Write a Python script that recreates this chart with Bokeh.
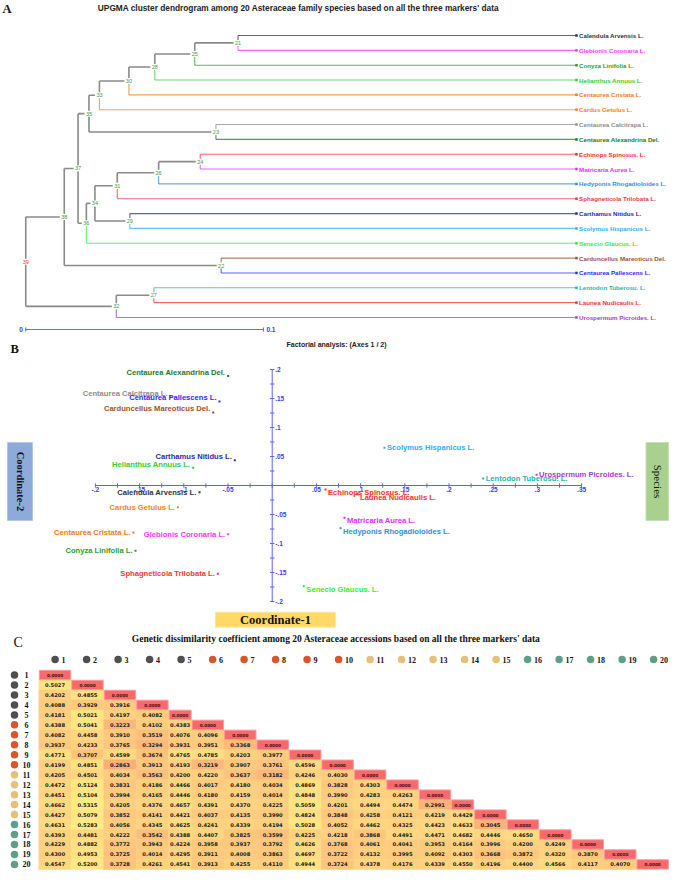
import math
from bokeh.plotting import figure
from bokeh.layouts import column
from bokeh.models import Range1d
from bokeh.embed import file_html
from bokeh.resources import INLINE
from bokeh.core.properties import value

# ---------------- DATA ----------------
leaf_names = ["Calendula Arvensis L.", "Glebionis Coronaria L.", "Conyza Linifolia L.",
              "Helianthus Annuus L.", "Centaurea Cristata L.", "Cardus Getulus L.",
              "Centaurea Calcitrapa L.", "Centaurea Alexandrina Del.", "Echinops Spinosus. L.",
              "Matricaria Aurea L.", "Hedyponis Rhogadioloides L.", "Sphagneticola Trilobata L.",
              "Carthamus Nitidus L.", "Scolymus Hispanicus L.", "Senecio Glaucus. L.",
              "Carduncellus Mareoticus Del.", "Centaurea Pallescens L.", "Lentodon Tuberosu. L.",
              "Launea Nudicaulis L.", "Urospermum Picroides. L."]
leaf_colors = ["#333333", "#ff33ff", "#2e9e2e", "#33cc33", "#e67e22", "#ff7f27",
               "#8c8c8c", "#1f7a1f", "#ff2a2a", "#d633ff", "#2f8fd8", "#e03c3c",
               "#2a2a9e", "#33aaff", "#33ee33", "#a0522d", "#2b2bff", "#2ab5a5",
               "#ee3333", "#a040d0"]

# UPGMA merges (node id, left child, right child, height); children < 20 are leaves
merge_ids = [21, 25, 28, 30, 33, 23, 35, 24, 26, 31, 29, 34, 36, 37, 22, 38, 27, 32, 39]
merge_left = [0, 21, 25, 28, 30, 6, 33, 8, 24, 26, 12, 31, 34, 35, 15, 37, 17, 27, 38]
merge_right = [1, 2, 3, 4, 5, 7, 23, 9, 10, 11, 13, 29, 14, 36, 16, 22, 18, 19, 32]
merge_height = [0.1424, 0.1606, 0.1774, 0.1883, 0.2007, 0.1517, 0.2051, 0.1583, 0.1758,
                0.1932, 0.1879, 0.2026, 0.2062, 0.2097, 0.1495, 0.2155, 0.1778, 0.1936, 0.2317]
scale_bar_len = 0.1

# Factorial analysis coordinates (axis 1, axis 2)
pca_names = ["Centaurea Alexandrina Del.", "Centaurea Calcitrapa L.", "Centaurea Pallescens L.",
             "Carduncellus Mareoticus Del.", "Carthamus Nitidus L.", "Helianthus Annuus L.",
             "Calendula Arvensis L.", "Cardus Getulus L.", "Centaurea Cristata L.",
             "Glebionis Coronaria L.", "Conyza Linifolia L.", "Sphagneticola Trilobata L.",
             "Senecio Glaucus. L.", "Echinops Spinosus. L.", "Launea Nudicaulis L.",
             "Matricaria Aurea L.", "Hedyponis Rhogadioloides L.", "Scolymus Hispanicus L.",
             "Lentodon Tuberosu. L.", "Urospermum Picroides. L."]
pca_x = [-0.0498, -0.115, -0.0596, -0.0667, -0.0423, -0.0894, -0.0822, -0.1067, -0.157,
         -0.0498, -0.1546, -0.0615, 0.0358, 0.0603, 0.0965, 0.0818, 0.0773, 0.127, 0.2387, 0.299]
pca_y = [0.189, 0.152, 0.145, 0.126, 0.0437, 0.0305, -0.0115, -0.0374, -0.081,
         -0.084, -0.1126, -0.152, -0.1736, -0.0069, -0.0147, -0.0557, -0.0736, 0.065, 0.012, 0.0184]
x_ticks = [-0.2, -0.15, -0.1, -0.05, 0.05, 0.1, 0.15, 0.2, 0.25, 0.3, 0.35]
x_tick_labels = ["-.2", "-.15", "-.1", "-.05", ".05", ".1", ".15", ".2", ".25", ".3", ".35"]
y_ticks = [0.2, 0.15, 0.1, 0.05, -0.05, -0.1, -0.15, -0.2]
y_tick_labels = [".2", ".15", ".1", ".05", "-.05", "-.1", "-.15", "-.2"]
x_axis_min, x_axis_max, minor_step = -0.2, 0.35, 0.025
y_axis_min, y_axis_max = -0.2, 0.2

# Genetic dissimilarity matrix (lower triangle)
accessions = [str(i) for i in range(1, 21)]
group_colors = ["#4f4f4f"] * 5 + ["#d6572b"] * 5 + ["#e5c07b"] * 5 + ["#5f9f8a"] * 5
dissim = [
    [0.0000],
    [0.5027, 0.0000],
    [0.4202, 0.4855, 0.0000],
    [0.4088, 0.3929, 0.3916, 0.0000],
    [0.4181, 0.5021, 0.4197, 0.4082, 0.0000],
    [0.4388, 0.5041, 0.3223, 0.4102, 0.4383, 0.0000],
    [0.4082, 0.4458, 0.3910, 0.3519, 0.4076, 0.4096, 0.0000],
    [0.3937, 0.4233, 0.3765, 0.3294, 0.3931, 0.3951, 0.3368, 0.0000],
    [0.4771, 0.3707, 0.4599, 0.3674, 0.4765, 0.4785, 0.4203, 0.3977, 0.0000],
    [0.4199, 0.4851, 0.2863, 0.3913, 0.4193, 0.3219, 0.3907, 0.3761, 0.4596, 0.0000],
    [0.4205, 0.4501, 0.4034, 0.3563, 0.4200, 0.4220, 0.3637, 0.3182, 0.4246, 0.4030, 0.0000],
    [0.4472, 0.5124, 0.3831, 0.4186, 0.4466, 0.4017, 0.4180, 0.4034, 0.4869, 0.3828, 0.4303, 0.0000],
    [0.4451, 0.5104, 0.3994, 0.4165, 0.4446, 0.4180, 0.4159, 0.4014, 0.4848, 0.3990, 0.4283, 0.4263, 0.0000],
    [0.4662, 0.5315, 0.4205, 0.4376, 0.4657, 0.4391, 0.4370, 0.4225, 0.5059, 0.4201, 0.4494, 0.4474, 0.2991, 0.0000],
    [0.4427, 0.5079, 0.3852, 0.4141, 0.4421, 0.4037, 0.4135, 0.3990, 0.4824, 0.3848, 0.4258, 0.4121, 0.4219, 0.4429, 0.0000],
    [0.4631, 0.5283, 0.4056, 0.4345, 0.4625, 0.4241, 0.4339, 0.4194, 0.5028, 0.4052, 0.4462, 0.4325, 0.4423, 0.4633, 0.3045, 0.0000],
    [0.4393, 0.4481, 0.4222, 0.3542, 0.4388, 0.4407, 0.3825, 0.3599, 0.4225, 0.4218, 0.3868, 0.4491, 0.4471, 0.4682, 0.4446, 0.4650, 0.0000],
    [0.4229, 0.4882, 0.3772, 0.3943, 0.4224, 0.3958, 0.3937, 0.3792, 0.4626, 0.3768, 0.4061, 0.4041, 0.3953, 0.4164, 0.3996, 0.4200, 0.4249, 0.0000],
    [0.4300, 0.4953, 0.3725, 0.4014, 0.4295, 0.3911, 0.4008, 0.3863, 0.4697, 0.3722, 0.4132, 0.3995, 0.4092, 0.4303, 0.3668, 0.3872, 0.4320, 0.3870, 0.0000],
    [0.4547, 0.5200, 0.3728, 0.4261, 0.4541, 0.3913, 0.4255, 0.4110, 0.4944, 0.3724, 0.4378, 0.4176, 0.4339, 0.4550, 0.4196, 0.4400, 0.4566, 0.4117, 0.4070, 0.0000],
]

# ---------------- LAYOUT ----------------
W = 669
TOTAL_H = 870
SANS = value("Liberation Sans")
SERIF = value("Liberation Serif")
DEJ = value("DejaVu Sans")


def fs(s):
    return value(f"{s}px")


def base_fig(h, xr, yr):
    p = figure(width=W, height=h, x_range=xr, y_range=yr, toolbar_location=None,
               output_backend="svg", x_axis_location=None, y_axis_location=None,
               min_border=0, title=None)
    p.outline_line_color = None
    p.background_fill_color = "white"
    p.border_fill_color = "white"
    p.xgrid.visible = False
    p.ygrid.visible = False
    return p


def txt(p, x, y, s, size, color="#222222", font=SANS, style="bold", align="center",
        baseline="middle", angle=0.0, xo=0, yo=0):
    p.text(x=[x], y=[y], text=[s], text_font=font, text_font_size=fs(size),
           text_font_style=style, text_color=color, text_align=align,
           text_baseline=baseline, angle=angle, x_offset=xo, y_offset=yo)


# ======== Panel A: dendrogram ========
A_TOP, A_H = 0, 333
LEAF_PX, UNIT_PX = 576.0, 2377.0
LEAF0_Y, LEAF_STEP = 35.0, 14.84


def a_x(X):
    return (LEAF_PX - X) / UNIT_PX


def a_y(Y):
    return (Y - LEAF0_Y) / LEAF_STEP


pA = base_fig(A_H, Range1d(a_x(0), a_x(W)), Range1d(a_y(A_TOP + A_H), a_y(A_TOP)))

pos = {i: (0.0, float(i)) for i in range(len(leaf_names))}
sx0, sy0, sx1, sy1, scol, swid, salp = [], [], [], [], [], [], []
for nid, a, b, h in zip(merge_ids, merge_left, merge_right, merge_height):
    ym = (pos[a][1] + pos[b][1]) / 2.0
    for c in (a, b):
        hc, yc = pos[c]
        if c < 20:
            col, w, al = leaf_colors[c], 1.1, 0.75
        else:
            col, w, al = "#8a8a8a", 1.6, 1.0
        sx0 += [h, h]; sy0 += [ym, yc]; sx1 += [h, hc]; sy1 += [yc, yc]
        scol += [col, col]; swid += [w, w]; salp += [al, al]
    pos[nid] = (h, ym)

pA.segment(x0=sx0, y0=sy0, x1=sx1, y1=sy1, line_color=scol, line_width=swid, line_alpha=salp)

nx = [pos[n][0] for n in merge_ids]
ny = [pos[n][1] for n in merge_ids]
ncol = ["#3c9a3c"] * (len(merge_ids) - 1) + ["#ff3030"]
pA.rect(x=nx, y=ny, width=9, height=6, width_units="screen", height_units="screen",
        fill_color="white", line_color=None)
pA.text(x=nx, y=ny, text=[str(n) for n in merge_ids], text_font=SANS, text_font_size=fs(5.5),
        text_color=ncol, text_align="center", text_baseline="middle")

leaf_y = list(range(len(leaf_names)))
pA.scatter(x=[0.0] * len(leaf_names), y=leaf_y, marker="square", size=2.5,
           fill_color=leaf_colors, line_color=None)
pA.text(x=[0.0] * len(leaf_names), y=leaf_y, text=leaf_names, text_font=SANS,
        text_font_size=fs(6.2), text_font_style="bold", text_color=leaf_colors,
        text_align="left", text_baseline="middle", x_offset=2.5)

root_h = merge_height[-1]
sb_y = a_y(329)
pA.segment(x0=[root_h], y0=[sb_y], x1=[root_h - scale_bar_len], y1=[sb_y], line_color="#6a6aff", line_width=1)
pA.rect(x=[root_h, root_h - scale_bar_len], y=[sb_y, sb_y], width=1.2, height=4,
        width_units="screen", height_units="screen", fill_color="#6a6aff", line_color=None)
txt(pA, root_h, sb_y, "0", 6.5, color="#3a3aff", align="right", xo=-3)
txt(pA, root_h - scale_bar_len, sb_y, "0.1", 6.5, color="#3a3aff", align="left", xo=3)

txt(pA, a_x(298), a_y(7.5),
    "UPGMA cluster dendrogram among 20 Asteraceae family species based on all the three markers' data",
    8.3, color="#222222")
txt(pA, a_x(2), a_y(8.5), "A", 12.5, color="#111111", font=SERIF, align="left")

# ======== Panel B: factorial analysis ========
B_TOP, B_H = A_TOP + A_H, 297
BX0, BXS, BY0, BYS = 271.7, 884.0, 485.0, 580.0


def b_x(X):
    return (X - BX0) / BXS


def b_y(Y):
    return (BY0 - Y) / BYS


pB = base_fig(B_H, Range1d(b_x(0), b_x(W)), Range1d(b_y(B_TOP + B_H), b_y(B_TOP)))

AX_COL = "#6262f0"
pB.segment(x0=[x_axis_min, 0], y0=[0, y_axis_min], x1=[x_axis_max, 0], y1=[0, y_axis_max],
           line_color=AX_COL, line_width=1)
nxm = int(round((x_axis_max - x_axis_min) / minor_step))
xm = [x_axis_min + k * minor_step for k in range(nxm + 1)]
nym = int(round((y_axis_max - y_axis_min) / minor_step))
ym_ = [y_axis_min + k * minor_step for k in range(nym + 1)]
tl = 2.2
pB.segment(x0=xm, y0=[-tl / BYS] * len(xm), x1=xm, y1=[tl / BYS] * len(xm), line_color=AX_COL, line_width=1)
pB.segment(x0=[-tl / BXS] * len(ym_), y0=ym_, x1=[tl / BXS] * len(ym_), y1=ym_, line_color=AX_COL, line_width=1)
pB.text(x=x_ticks, y=[0.0] * len(x_ticks), text=x_tick_labels, text_font=SANS, text_font_size=fs(6.5),
        text_font_style="bold", text_color="#3a3aff", text_align="center", text_baseline="top", y_offset=1.5)
pB.text(x=[0.0] * len(y_ticks), y=y_ticks, text=y_tick_labels, text_font=SANS, text_font_size=fs(6.5),
        text_font_style="bold", text_color="#3a3aff", text_align="left", text_baseline="middle", x_offset=3)

name_col = dict(zip(leaf_names, leaf_colors))
pcol = [name_col[n] for n in pca_names]
pB.scatter(x=pca_x, y=pca_y, marker="square", size=2, fill_color=pcol, line_color=None)
al, xo, yo = [], [], []
for x, y in zip(pca_x, pca_y):
    if x < 0:
        al.append("right"); xo.append(-3); yo.append(-3.5 if y > 0 else 0)
    else:
        al.append("left"); xo.append(2.5); yo.append(3 if y < 0 else 0)
pB.text(x=pca_x, y=pca_y, text=pca_names, text_font=SANS, text_font_size=fs(7.6),
        text_font_style="bold", text_color=pcol, text_align=al, text_baseline="middle",
        x_offset=xo, y_offset=yo)

txt(pB, b_x(336), b_y(344.3), "Factorial analysis: (Axes 1 / 2)", 7.0, color="#222222")
txt(pB, b_x(10), b_y(348.5), "B", 12.5, color="#111111", font=SERIF, align="left")

# side boxes
pB.quad(left=[b_x(7)], right=[b_x(32)], top=[b_y(442)], bottom=[b_y(520)],
        fill_color="#8eaadb", line_color="#b4c7e7", line_width=1)
txt(pB, b_x(19.5), b_y(481), "Coordinate-2", 10.5, color="#111111", font=SERIF, angle=-math.pi / 2)
pB.quad(left=[b_x(645.5)], right=[b_x(668)], top=[b_y(442)], bottom=[b_y(520)],
        fill_color="#a9d18e", line_color="#c5e0b4", line_width=1)
txt(pB, b_x(657), b_y(481), "Species", 11, color="#111111", font=SERIF, style="normal", angle=-math.pi / 2)
pB.quad(left=[b_x(215)], right=[b_x(335)], top=[b_y(611.7)], bottom=[b_y(626.7)],
        fill_color="#ffd966", line_color="#ffe699", line_width=1)
txt(pB, b_x(275), b_y(619.5), "Coordinate-1", 12.5, color="#111111", font=SERIF)

# ======== Panel C: dissimilarity matrix ========
C_TOP = B_TOP + B_H
C_H = TOTAL_H - A_H - B_H
ROW1_Y, ROW_H = 674.5, 9.97


def c_y(Y):
    return 1 + (Y - ROW1_Y) / ROW_H


pC = base_fig(C_H, Range1d(0, W), Range1d(c_y(C_TOP + C_H), c_y(C_TOP)))

COL_START = 38.3
col_w = [32.45] * 20
col_w[4] = 23.0
col_w[13] = 23.0
col_cx = []
acc = COL_START
for w in col_w:
    col_cx.append(acc + w / 2)
    acc += w

vmax = max(max(r) for r in dissim)


def scale_color(v):
    t = max(0.0, min(1.0, v / vmax))
    r = 248 + (255 - 248) * t
    g = 105 + (235 - 105) * t
    b = 107 + (132 - 107) * t
    return "#%02x%02x%02x" % (int(round(r)), int(round(g)), int(round(b)))


ox, oy, ow, oc, ot = [], [], [], [], []
dx, dy, dw, dt = [], [], [], []
for i, row in enumerate(dissim):
    for j, v in enumerate(row):
        if i == j:
            dx.append(col_cx[j]); dy.append(i + 1); dw.append(col_w[j] - 1); dt.append("%.4f" % v)
        else:
            ox.append(col_cx[j]); oy.append(i + 1); ow.append(col_w[j]); oc.append(scale_color(v)); ot.append("%.4f" % v)

pC.rect(x=ox, y=oy, width=ow, height=1.0, fill_color=oc, line_color=oc, line_width=0.5)
pC.rect(x=dx, y=dy, width=dw, height=0.94, fill_color="#f8696b", line_color="#ff9a9a", line_width=1)
pC.text(x=ox, y=oy, text=ot, text_font=DEJ, text_font_size=fs(5.2), text_font_style="bold",
        text_color="#1a1a1a", text_align="center", text_baseline="middle")
pC.text(x=dx, y=dy, text=dt, text_font=DEJ, text_font_size=fs(4.2), text_font_style="bold",
        text_color="#4a1010", text_align="center", text_baseline="middle")

# legends
n = len(accessions)
top_x = [54.6 + k * 31.5 for k in range(n)]
top_y = [c_y(659)] * n
pC.scatter(x=top_x, y=top_y, size=7.5, fill_color=group_colors, line_color=None)
pC.text(x=top_x, y=top_y, text=accessions, text_font=SERIF, text_font_size=fs(8),
        text_font_style="bold", text_color="#111111", text_align="left", text_baseline="middle", x_offset=6.5)
left_y = list(range(1, n + 1))
pC.scatter(x=[14] * n, y=left_y, size=7.5, fill_color=group_colors, line_color=None)
pC.text(x=[26] * n, y=left_y, text=accessions, text_font=SERIF, text_font_size=fs(8),
        text_font_style="bold", text_color="#111111", text_align="center", text_baseline="middle")

txt(pC, 338, c_y(638.5),
    "Genetic dissimilarity coefficient  among 20 Asteraceae accessions based on all the three  markers' data",
    9.5, color="#111111", font=SERIF)
txt(pC, 13, c_y(642), "C", 14, color="#111111", font=SERIF, style="normal", align="left")

layout = column(pA, pB, pC, spacing=0)
open("out.html", "w").write(file_html(layout, INLINE))
